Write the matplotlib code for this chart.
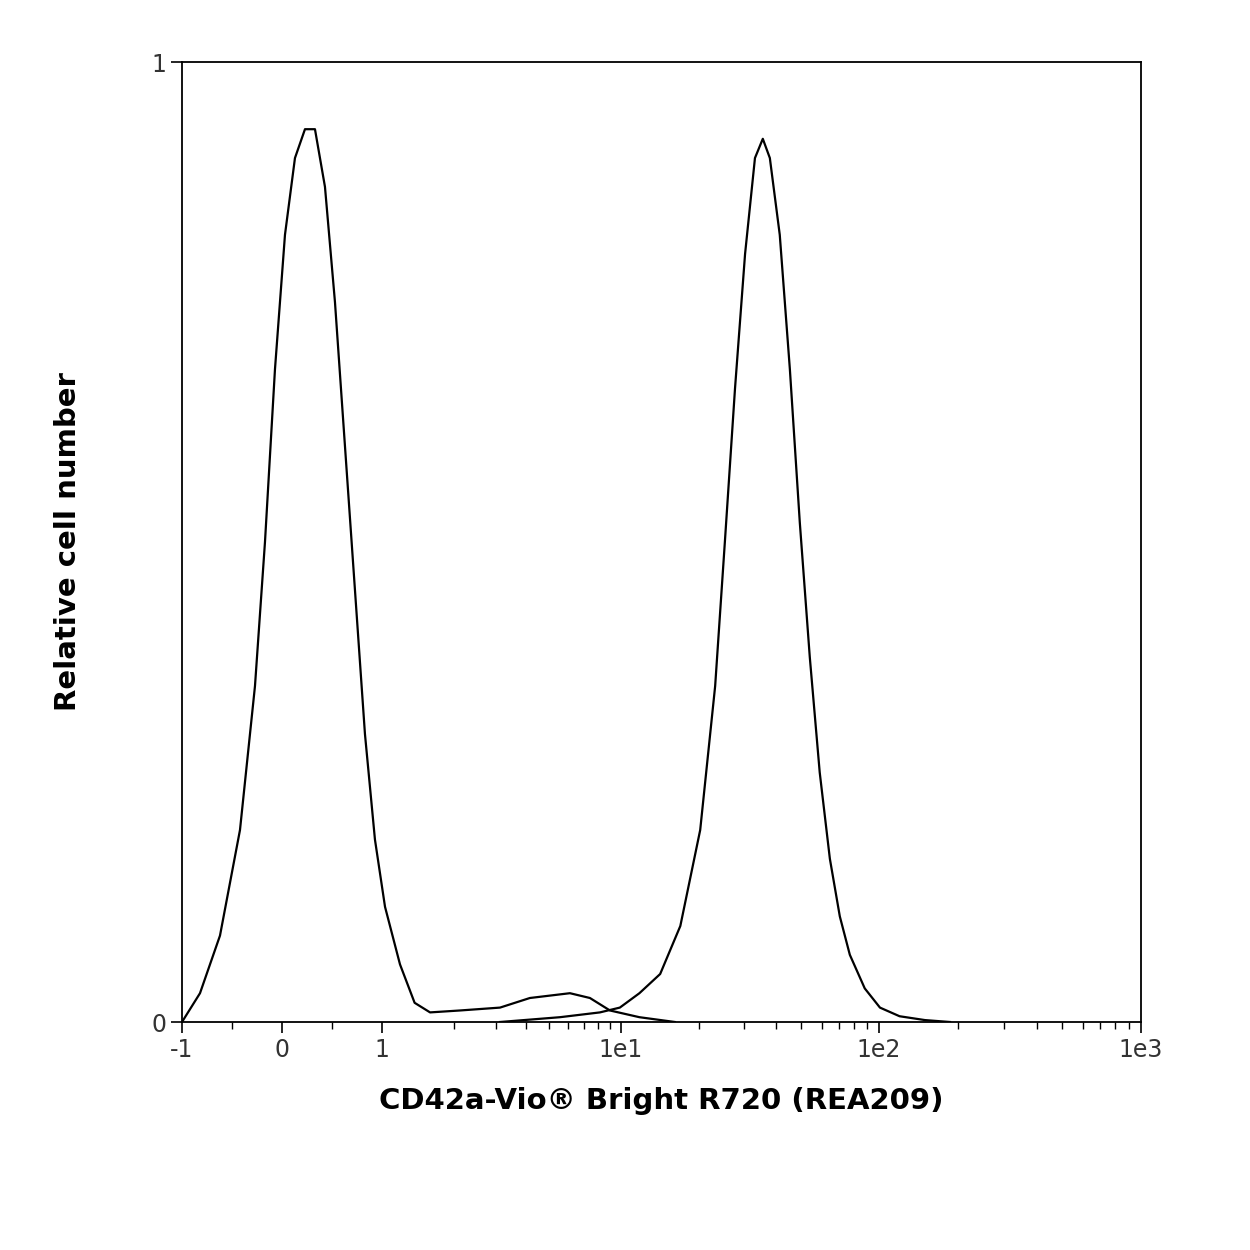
import numpy as np
import matplotlib
matplotlib.use("Agg")
import matplotlib.pyplot as plt

# data (x in fluorescence units, y relative cell number)
neg_x = [-1, -0.82, -0.62, -0.42, -0.27, -0.17, -0.07, 0.03, 0.13, 0.23, 0.33, 0.43, 0.53, 0.63, 0.73,
         0.83, 0.93, 1.03, 1.19, 1.37, 1.59, 2.12, 3.12, 4.16, 6.12, 7.42, 9.0, 11.8, 16.2]
neg_y = [0.0, 0.03, 0.09, 0.2, 0.35, 0.5, 0.68, 0.82, 0.9, 0.93, 0.93, 0.87, 0.75, 0.6, 0.45,
         0.3, 0.19, 0.12, 0.06, 0.02, 0.01, 0.012, 0.015, 0.025, 0.03, 0.025, 0.012, 0.005, 0.0]
pos_x = [3.12, 5.56, 8.17, 9.9, 11.8, 14.2, 17.0, 20.3, 23.2, 25.3, 27.7, 30.3, 33.1, 35.5, 37.8,
         41.3, 45.2, 49.4, 54, 59, 64.6, 70.6, 77.2, 88.2, 101, 120, 150, 187]
pos_y = [0.0, 0.005, 0.01, 0.015, 0.03, 0.05, 0.1, 0.2, 0.35, 0.5, 0.66, 0.8, 0.9, 0.92, 0.9,
         0.82, 0.68, 0.52, 0.38, 0.26, 0.17, 0.11, 0.07, 0.035, 0.015, 0.006, 0.002, 0.0]
xtick_vals = [-1, 0, 1, 10, 100, 1000]
xtick_labels = ["-1", "0", "1", "1e1", "1e2", "1e3"]

U = np.array([1.0, 3.39, 5.97, 8.59, 11.21])
L = np.array([0.0, 1.0, 2.0, 3.0, 4.0])

def fwd(x):
    x = np.asarray(x, dtype=float)
    lg = np.log10(np.clip(x, 1e-9, None))
    return np.where(x <= 1, x, np.interp(lg, L, U))

def inv(u):
    u = np.asarray(u, dtype=float)
    return np.where(u <= 1, u, 10 ** np.interp(u, U, L))

fig = plt.figure(figsize=(12.5, 12.5), dpi=100)
ax = fig.add_axes([0.1456, 0.1824, 0.767, 0.768])
ax.set_xscale("function", functions=(fwd, inv))
ax.plot(neg_x, neg_y, color="black", lw=1.6)
ax.plot(pos_x, pos_y, color="black", lw=1.6)
ax.set_xlim(-1, 1000)
ax.set_ylim(0, 1)
ax.set_xticks(xtick_vals)
ax.set_xticklabels(xtick_labels)
minor = [-0.5, 0.5] + [m * 10 ** k for k in range(0, 3) for m in range(2, 10)]
ax.set_xticks(minor, minor=True)
ax.set_yticks([0, 1])
ax.set_yticklabels(["0", "1"])
ax.tick_params(axis="both", which="major", length=8, width=1.2, labelsize=17, colors="black", labelcolor="#333333")
ax.tick_params(axis="x", which="minor", length=5, width=1)
for s in ax.spines.values():
    s.set_linewidth(1.3)
ax.set_xlabel("CD42a-Vio® Bright R720 (REA209)", fontsize=21, fontweight="bold", labelpad=18)
ax.set_ylabel("Relative cell number", fontsize=21, fontweight="bold", labelpad=50)
fig.savefig("out.png", dpi=100, facecolor="white")
